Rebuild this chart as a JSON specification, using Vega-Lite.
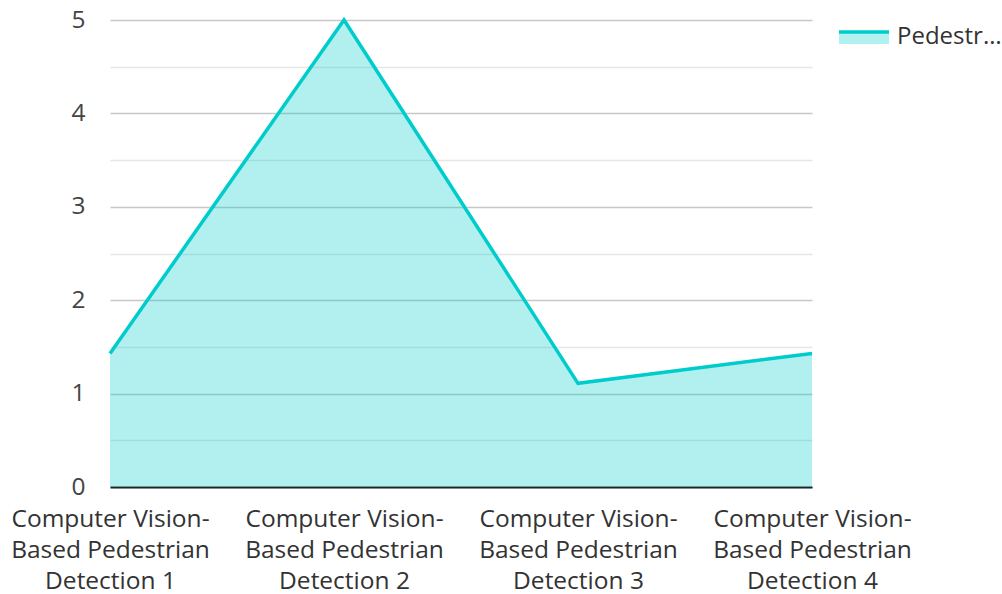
{
  "$schema": "https://vega.github.io/schema/vega-lite/v6.json",
  "autosize": "none",
  "width": 702,
  "height": 467,
  "padding": {"left": 110, "top": 20, "right": 190, "bottom": 107},
  "config": {
    "font": "Open Sans",
    "view": {"stroke": null},
    "axis": {"labelFont": "Open Sans", "labelFontSize": 24.5, "labelColor": "#333333", "ticks": false, "title": null}
  },
  "data": {
    "values": [
      {"category": "Computer Vision-Based Pedestrian Detection 1", "series": "Pedestrian Detection Accuracy", "value": 1.43},
      {"category": "Computer Vision-Based Pedestrian Detection 2", "series": "Pedestrian Detection Accuracy", "value": 5},
      {"category": "Computer Vision-Based Pedestrian Detection 3", "series": "Pedestrian Detection Accuracy", "value": 1.11},
      {"category": "Computer Vision-Based Pedestrian Detection 4", "series": "Pedestrian Detection Accuracy", "value": 1.43}
    ]
  },
  "encoding": {
    "x": {
      "field": "category",
      "type": "nominal",
      "sort": null,
      "scale": {"type": "point", "padding": 0},
      "axis": {
        "labelAngle": 0,
        "labelExpr": "[slice(datum.value,0,16), slice(datum.value,16,32), slice(datum.value,33)]",
        "labelLineHeight": 31,
        "labelPadding": 20,
        "labelBaseline": "top",
        "domain": true,
        "domainColor": "#222222",
        "domainWidth": 2,
        "grid": false,
        "labelLimit": 300
      }
    },
    "y": {
      "field": "value",
      "type": "quantitative",
      "scale": {"domain": [0, 5], "nice": false},
      "axis": {
        "values": [0, 0.5, 1, 1.5, 2, 2.5, 3, 3.5, 4, 4.5, 5],
        "labelExpr": "datum.value % 1 === 0 ? format(datum.value, 'd') : ''",
        "labelColor": "#444444",
        "domain": false,
        "grid": true,
        "gridColor": {"condition": {"test": "datum.value % 1 === 0", "value": "#c8c8c8"}, "value": "#e6e6e6"},
        "gridWidth": 1.5,
        "labelPadding": 25
      }
    }
  },
  "layer": [
    {"mark": {"type": "area", "color": "#00cccc", "fillOpacity": 0.3}},
    {
      "mark": {"type": "line", "strokeWidth": 3.5},
      "encoding": {
        "color": {
          "field": "series",
          "type": "nominal",
          "scale": {"range": ["#00cccc"]},
          "legend": {
            "title": null,
            "orient": "none",
            "legendX": 727,
            "legendY": -10,
            "symbolType": "M-1,-0.2 H1 V0.28 H-1 Z",
            "symbolSize": 2500,
            "symbolFillColor": "#b3f0f0",
            "symbolStrokeColor": "#00cccc",
            "symbolStrokeWidth": 3.5,
            "symbolDash": [50, 300],
            "symbolOpacity": 1,
            "labelOffset": 6,
            "labelFontSize": 24,
            "labelFont": "Open Sans",
            "labelColor": "#333333",
            "labelLimit": 110
          }
        }
      }
    }
  ]
}
